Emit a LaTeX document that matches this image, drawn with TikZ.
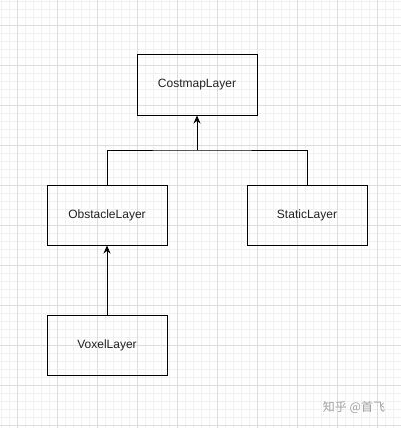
\documentclass[tikz,border=0pt]{standalone}
\usepackage{fontspec}
\setmainfont{Liberation Sans}
\newfontfamily\cjkfont{Noto Sans CJK SC}
\usetikzlibrary{positioning,arrows.meta}

\definecolor{gridmajor}{HTML}{DDDDDD}
\definecolor{gridminor}{HTML}{F1F1F1}
\definecolor{labeltext}{HTML}{222222}
\definecolor{marktext}{HTML}{A0A0A0}

\tikzset{
	layerbox/.style={draw, line width=1pt, minimum width=120pt, minimum height=60pt,
		inner sep=0pt, text=labeltext, font=\fontsize{12}{14}\selectfont},
	inherit/.style={line width=1pt, -{Stealth[length=8pt, width=7pt]}},
	link/.style={line width=1pt}
}

\begin{document}
\begin{tikzpicture}[x=1pt, y=-1pt]
	\useasboundingbox[fill=white] (0, 0) rectangle (401, 428);

	\begin{scope}[x=1pt, y=1pt, shift={(17, -25)}]
		\draw[gridminor, line width=0.6pt, step=8] (-17, -403) grid (384, 25);
		\draw[gridmajor, line width=0.8pt, step=40] (-17, -403) grid (384, 25);
	\end{scope}

	\node[layerbox] (costmap) at (197, 85) {CostmapLayer};
	\node[layerbox] (obstacle) at (107, 215) {ObstacleLayer};
	\node[layerbox] (static) at (307, 215) {StaticLayer};
	\node[layerbox] (voxel) at (107, 345) {VoxelLayer};

	\coordinate (join) at (197, 150);

	\draw[link] (obstacle.north) |- (join) -| (static.north);
	\draw[inherit] (join) -- (costmap.south);
	\draw[inherit] (voxel.north) -- (obstacle.south);

	\node[text=marktext, font=\cjkfont\fontsize{12}{14}\selectfont] (mark) at (354, 407) {知乎 @首飞};

\end{tikzpicture}
\end{document}
